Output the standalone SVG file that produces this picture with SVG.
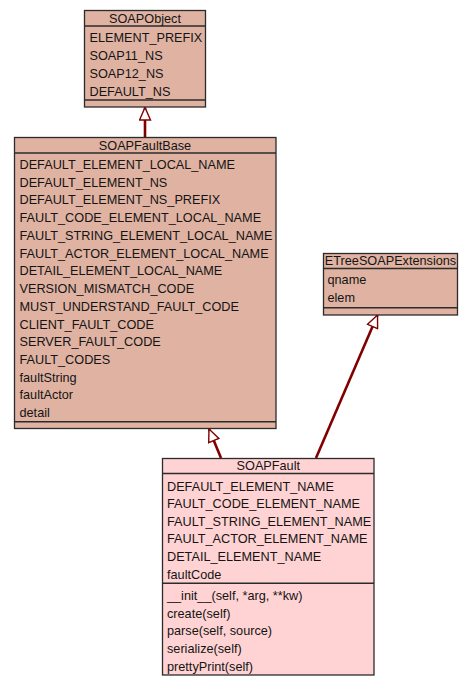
<svg xmlns="http://www.w3.org/2000/svg" width="474" height="686" viewBox="0 0 474 686">
<style>
  text { font-family: "Liberation Sans", Arial, Helvetica, sans-serif; font-size: 12.7px; fill: #141414; }
  .title { text-anchor: middle; }
  .box { stroke: #2b2b2b; stroke-width: 1.3; }
  .salmon { fill: #dfb2a2; }
  .pink { fill: #ffd3d3; }
  .sep { stroke: #2b2b2b; stroke-width: 1.5; }
  .conn { stroke: #800000; stroke-width: 2.6; fill: none; marker-end: url(#gen); }
</style>
<defs>
  <marker id="gen" markerUnits="userSpaceOnUse" viewBox="0 0 15 13" markerWidth="15" markerHeight="13" refX="13.5" refY="6.5" orient="auto">
    <path d="M1,1 L13.5,6.5 L1,12 Z" fill="#ffffff" stroke="#800000" stroke-width="1.4"/>
  </marker>
</defs>
<rect width="474" height="686" fill="#ffffff"/>

<g id="connectors">
  <line class="conn" x1="145" y1="137" x2="145" y2="107.5"/>
  <line class="conn" x1="221" y1="458" x2="209" y2="429"/>
  <line class="conn" x1="316" y1="458" x2="377.5" y2="315"/>
</g>

<g id="SOAPObject">
  <rect class="box salmon" x="84.5" y="10.5" width="121" height="96.5"/>
  <line class="sep" x1="84.5" y1="26" x2="205.5" y2="26"/>
  <line class="sep" x1="84.5" y1="100" x2="205.5" y2="100"/>
  <text class="title" x="145" y="22.5">SOAPObject</text>
  <text x="89.5" y="42">ELEMENT_PREFIX</text>
  <text x="89.5" y="60">SOAP11_NS</text>
  <text x="89.5" y="78">SOAP12_NS</text>
  <text x="89.5" y="96">DEFAULT_NS</text>
</g>

<g id="SOAPFaultBase">
  <rect class="box salmon" x="14.5" y="137.5" width="261.5" height="291"/>
  <line class="sep" x1="14.5" y1="153" x2="276" y2="153"/>
  <line class="sep" x1="14.5" y1="421.7" x2="276" y2="421.7"/>
  <text class="title" x="145" y="149.5">SOAPFaultBase</text>
  <text x="19.5" y="168.8">DEFAULT_ELEMENT_LOCAL_NAME</text>
  <text x="19.5" y="186.5">DEFAULT_ELEMENT_NS</text>
  <text x="19.5" y="204.3">DEFAULT_ELEMENT_NS_PREFIX</text>
  <text x="19.5" y="222">FAULT_CODE_ELEMENT_LOCAL_NAME</text>
  <text x="19.5" y="239.8">FAULT_STRING_ELEMENT_LOCAL_NAME</text>
  <text x="19.5" y="257.5">FAULT_ACTOR_ELEMENT_LOCAL_NAME</text>
  <text x="19.5" y="275.2">DETAIL_ELEMENT_LOCAL_NAME</text>
  <text x="19.5" y="293">VERSION_MISMATCH_CODE</text>
  <text x="19.5" y="310.7">MUST_UNDERSTAND_FAULT_CODE</text>
  <text x="19.5" y="328.5">CLIENT_FAULT_CODE</text>
  <text x="19.5" y="346.2">SERVER_FAULT_CODE</text>
  <text x="19.5" y="364">FAULT_CODES</text>
  <text x="19.5" y="381.7">faultString</text>
  <text x="19.5" y="399.4">faultActor</text>
  <text x="19.5" y="417.2">detail</text>
</g>

<g id="ETreeSOAPExtensions">
  <rect class="box salmon" x="323.5" y="253.5" width="134" height="61.5"/>
  <line class="sep" x1="323.5" y1="268.5" x2="457.5" y2="268.5"/>
  <line class="sep" x1="323.5" y1="307.7" x2="457.5" y2="307.7"/>
  <text class="title" x="390.5" y="265">ETreeSOAPExtensions</text>
  <text x="327.5" y="283.8">qname</text>
  <text x="327.5" y="301.8">elem</text>
</g>

<g id="SOAPFault">
  <rect class="box pink" x="162.5" y="458.5" width="211.5" height="216.5"/>
  <line class="sep" x1="162.5" y1="473.5" x2="374" y2="473.5"/>
  <line class="sep" x1="162.5" y1="583.3" x2="374" y2="583.3"/>
  <text class="title" x="268.3" y="470.3">SOAPFault</text>
  <text x="167" y="490.5">DEFAULT_ELEMENT_NAME</text>
  <text x="167" y="508">FAULT_CODE_ELEMENT_NAME</text>
  <text x="167" y="525.5">FAULT_STRING_ELEMENT_NAME</text>
  <text x="167" y="543.2">FAULT_ACTOR_ELEMENT_NAME</text>
  <text x="167" y="561">DETAIL_ELEMENT_NAME</text>
  <text x="167" y="578.7">faultCode</text>
  <text x="167" y="600.2">__init__(self, *arg, **kw)</text>
  <text x="167" y="617.5">create(self)</text>
  <text x="167" y="635.2">parse(self, source)</text>
  <text x="167" y="652.8">serialize(self)</text>
  <text x="167" y="670.5">prettyPrint(self)</text>
</g>
</svg>
